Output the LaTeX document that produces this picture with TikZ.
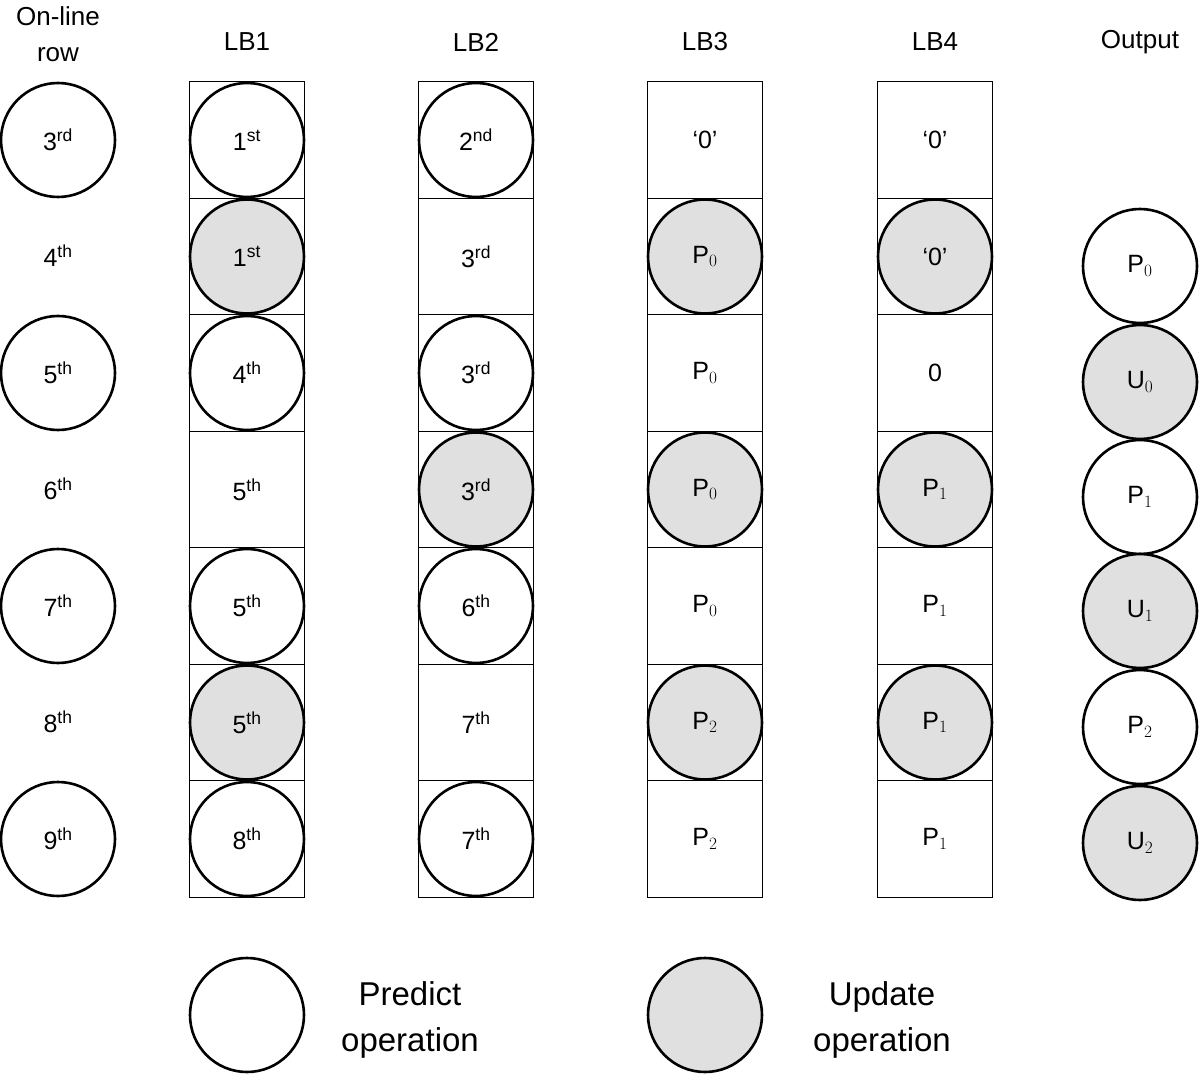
\documentclass[tikz,border=0pt]{standalone}
\usepackage{fontspec}
\setmainfont{Liberation Sans}
\begin{document}
\begin{tikzpicture}[x=1pt,y=-1pt,
  cell/.style={draw,line width=1.2pt,minimum width=115pt,minimum height=116.4pt,inner sep=0pt,font=\fontsize{25}{28}\selectfont},
  pc/.style={circle,draw,line width=2.6pt,minimum size=114pt,inner sep=0pt,font=\fontsize{25}{28}\selectfont},
  uc/.style={pc,fill=black!12},
  lbl/.style={font=\fontsize{25}{28}\selectfont},
  hdr/.style={font=\fontsize{26}{36}\selectfont,align=center},
  leg/.style={font=\fontsize{33}{46}\selectfont,align=center}]
\useasboundingbox (0,0) rectangle (1200,1083);
\newcommand{\sps}[2]{#1\textsuperscript{#2}}
% headers
\node[hdr] (h0) at (58,34) {On-line\\row};
\node[hdr] (h1) at (247,42) {LB1};
\node[hdr] (h2) at (476,42) {LB2};
\node[hdr] (h3) at (705,42) {LB3};
\node[hdr] (h4) at (935,42) {LB4};
\node[hdr] (h5) at (1140,42) {Output};
% online row
\node[pc] (o1) at (58,140) {\sps{3}{rd}};
\node[lbl] (o2) at (58,256) {\sps{4}{th}};
\node[pc] (o3) at (58,373) {\sps{5}{th}};
\node[lbl] (o4) at (58,489) {\sps{6}{th}};
\node[pc] (o5) at (58,606) {\sps{7}{th}};
\node[lbl] (o6) at (58,722) {\sps{8}{th}};
\node[pc] (o7) at (58,839) {\sps{9}{th}};
% boxes
\foreach \c/\x in {a/247,b/476,c/705,d/935}{
  \foreach \r/\y in {1/140,2/256.5,3/373,4/489.5,5/606,6/722.5,7/839}{
    \node[cell] (\c\r) at (\x,\y) {};
  }}
% LB1
\node[pc] (a1c) at (a1) {\sps{1}{st}};
\node[uc] (a2c) at (a2) {\sps{1}{st}};
\node[pc] (a3c) at (a3) {\sps{4}{th}};
\node[lbl] (a4t) at (a4) {\sps{5}{th}};
\node[pc] (a5c) at (a5) {\sps{5}{th}};
\node[uc] (a6c) at (a6) {\sps{5}{th}};
\node[pc] (a7c) at (a7) {\sps{8}{th}};
% LB2
\node[pc] (b1c) at (b1) {\sps{2}{nd}};
\node[lbl] (b2t) at (b2) {\sps{3}{rd}};
\node[pc] (b3c) at (b3) {\sps{3}{rd}};
\node[uc] (b4c) at (b4) {\sps{3}{rd}};
\node[pc] (b5c) at (b5) {\sps{6}{th}};
\node[lbl] (b6t) at (b6) {\sps{7}{th}};
\node[pc] (b7c) at (b7) {\sps{7}{th}};
% LB3
\node[lbl] (c1t) at (c1) {‘0’};
\node[uc] (c2c) at (c2) {P$_0$};
\node[lbl] (c3t) at (c3) {P$_0$};
\node[uc] (c4c) at (c4) {P$_0$};
\node[lbl] (c5t) at (c5) {P$_0$};
\node[uc] (c6c) at (c6) {P$_2$};
\node[lbl] (c7t) at (c7) {P$_2$};
% LB4
\node[lbl] (d1t) at (d1) {‘0’};
\node[uc] (d2c) at (d2) {‘0’};
\node[lbl] (d3t) at (d3) {0};
\node[uc] (d4c) at (d4) {P$_1$};
\node[lbl] (d5t) at (d5) {P$_1$};
\node[uc] (d6c) at (d6) {P$_1$};
\node[lbl] (d7t) at (d7) {P$_1$};
% output
\node[pc] (e1) at (1140,266) {P$_0$};
\node[uc] (e2) at (1140,382) {U$_0$};
\node[pc] (e3) at (1140,497) {P$_1$};
\node[uc] (e4) at (1140,611) {U$_1$};
\node[pc] (e5) at (1140,727) {P$_2$};
\node[uc] (e6) at (1140,843) {U$_2$};
% legend
\node[pc] (l1) at (247,1015) {};
\node[leg] (l1t) at (410,1020) {Predict\\operation};
\node[uc] (l2) at (705,1015) {};
\node[leg] (l2t) at (882,1020) {Update\\operation};
\end{tikzpicture}
\end{document}
